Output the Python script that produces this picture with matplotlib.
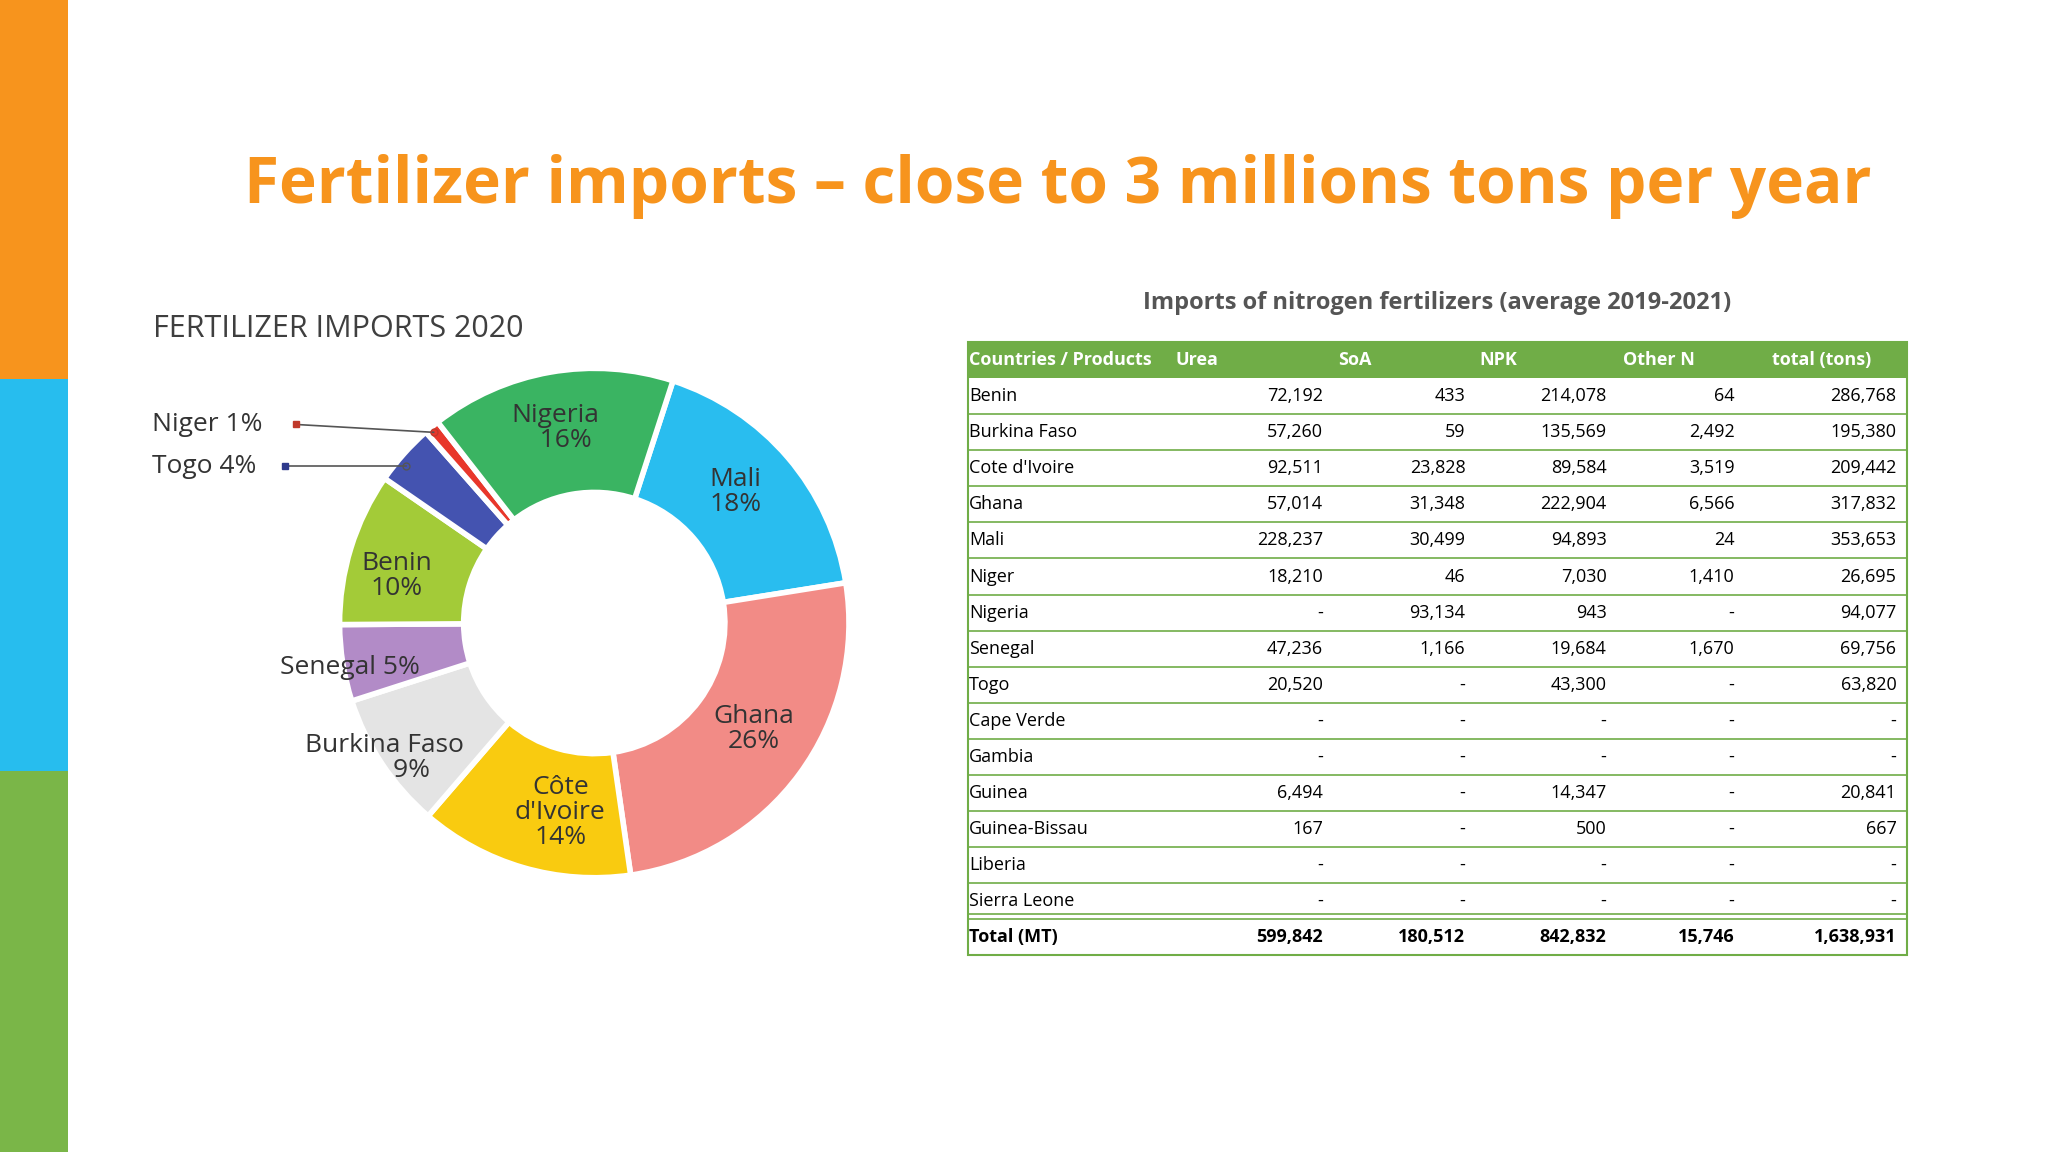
import matplotlib.pyplot as plt
from matplotlib.patches import Rectangle

plt.rcParams['font.family'] = ['Open Sans', 'DejaVu Sans']

# donut data (clockwise from the top)
pie_names = ['Mali', 'Ghana', "Côte\nd'Ivoire", 'Burkina Faso', 'Senegal', 'Benin', 'Togo', 'Niger', 'Nigeria']
pie_pct = [18, 26, 14, 9, 5, 10, 4, 1, 16]
pie_colors = ['#29BDEF', '#F28B86', '#F9CB10', '#E4E4E4', '#B28BC7', '#A3CB38', '#4453B0', '#E8372B', '#3AB462']

# table data
headers = ['Countries / Products', 'Urea', 'SoA', 'NPK', 'Other N', 'total (tons)']
countries = ['Benin', 'Burkina Faso', "Cote d'Ivoire", 'Ghana', 'Mali', 'Niger', 'Nigeria', 'Senegal', 'Togo',
             'Cape Verde', 'Gambia', 'Guinea', 'Guinea-Bissau', 'Liberia', 'Sierra Leone']
urea = ['72,192', '57,260', '92,511', '57,014', '228,237', '18,210', '-', '47,236', '20,520', '-', '-', '6,494', '167', '-', '-']
soa = ['433', '59', '23,828', '31,348', '30,499', '46', '93,134', '1,166', '-', '-', '-', '-', '-', '-', '-']
npk = ['214,078', '135,569', '89,584', '222,904', '94,893', '7,030', '943', '19,684', '43,300', '-', '-', '14,347', '500', '-', '-']
other_n = ['64', '2,492', '3,519', '6,566', '24', '1,410', '-', '1,670', '-', '-', '-', '-', '-', '-', '-']
total = ['286,768', '195,380', '209,442', '317,832', '353,653', '26,695', '94,077', '69,756', '63,820', '-', '-', '20,841', '667', '-', '-']
total_row = ['Total (MT)', '599,842', '180,512', '842,832', '15,746', '1,638,931']

W, H = 1568, 882
fig = plt.figure(figsize=(20.48, 11.52), dpi=100)
ax = fig.add_axes([0, 0, 1, 1])

def Y(y):
    return H - y

# donut
ax.pie(pie_pct, colors=pie_colors, startangle=72, counterclock=False, center=(455, Y(477)), radius=195,
       wedgeprops=dict(width=95, edgecolor='white', linewidth=4))
ax.set_xlim(0, W)
ax.set_ylim(0, H)
ax.set_aspect('equal')
ax.axis('off')

# side strip
ax.add_patch(Rectangle((0, Y(290)), 52, 290, color='#F7941D', lw=0))
ax.add_patch(Rectangle((0, Y(590)), 52, 300, color='#27BDEE', lw=0))
ax.add_patch(Rectangle((0, 0), 52, H - 590, color='#7AB648', lw=0))

ax.text(810, Y(143), 'Fertilizer imports – close to 3 millions tons per year', color='#F7941D',
        fontsize=46, fontweight='bold', ha='center', va='center')

ax.text(117, Y(252), 'FERTILIZER IMPORTS 2020', color='#3F3F3F', fontsize=22, ha='left', va='center')
lab_pos = {'Mali': (563, 377), 'Ghana': (577, 558), "Côte\nd'Ivoire": (429, 622), 'Nigeria': (425, 328),
           'Benin': (304, 441)}
lab_txt = {'Mali': 'Mali\n18%', 'Ghana': 'Ghana\n26%', "Côte\nd'Ivoire": "Côte\nd'Ivoire\n14%",
           'Nigeria': 'Nigeria\n   16%', 'Benin': 'Benin\n10%'}
for k, (x, y) in lab_pos.items():
    ax.text(x, Y(y), lab_txt[k], color='#333333', fontsize=19, ha='center', va='center', linespacing=1.0)
ax.text(268, Y(511), 'Senegal 5%', color='#333333', fontsize=19, ha='center', va='center')
ax.text(294, Y(580), 'Burkina Faso\n        9%', color='#333333', fontsize=19, ha='center', va='center', linespacing=1.0)
ax.text(116, Y(325), 'Niger 1%', color='#333333', fontsize=19, ha='left', va='center')
ax.text(116, Y(357), 'Togo 4%', color='#333333', fontsize=19, ha='left', va='center')
ax.plot([227, 332], [Y(325), Y(331)], color='#555555', lw=1.2)
ax.plot([227], [Y(325)], 's', color='#C0392B', ms=5)
ax.plot([332], [Y(331)], 'o', mfc='none', mec='#C0392B', ms=5)
ax.plot([218, 311], [Y(357), Y(357)], color='#555555', lw=1.2)
ax.plot([218], [Y(357)], 's', color='#2E3A8C', ms=5)
ax.plot([311], [Y(357)], 'o', mfc='none', mec='#555555', ms=5)

# table
ax.text(1100, Y(232), 'Imports of nitrogen fertilizers (average 2019-2021)', color='#555555',
        fontsize=17, fontweight='bold', ha='center', va='center')
x0, x1 = 741, 1460
top, rh = 262, 27.6
green = '#70AD47'
ax.add_patch(Rectangle((x0, Y(top + rh)), x1 - x0, rh, color=green, lw=0))
hx = [(742, 'left'), (900, 'left'), (1037, 'center'), (1147, 'center'), (1270, 'center'), (1395, 'center')]
for (x, ha), h in zip(hx, headers):
    ax.text(x, Y(top + rh / 2), h, color='white', fontsize=13, fontweight='bold', ha=ha, va='center')
right = [1013, 1122, 1230, 1328, 1452]
for i, c in enumerate(countries):
    yc = top + rh * (i + 1.5)
    ax.text(742, Y(yc), c, fontsize=13, ha='left', va='center', color='black')
    for x, v in zip(right, [urea[i], soa[i], npk[i], other_n[i], total[i]]):
        ax.text(x, Y(yc), v, fontsize=13, ha='right', va='center', color='black')
    ax.plot([x0, x1], [Y(top + rh * (i + 2))] * 2, color=green, lw=1.2)
ax.plot([x0, x1], [Y(top + rh * 16 - 4)] * 2, color=green, lw=1.2)
yc = top + rh * 16.5
ax.text(742, Y(yc), total_row[0], fontsize=13, fontweight='bold', ha='left', va='center')
for x, v in zip(right, total_row[1:]):
    ax.text(x, Y(yc), v, fontsize=13, fontweight='bold', ha='right', va='center')
ax.add_patch(Rectangle((x0, Y(top + rh * 17)), x1 - x0, rh * 17, fill=False, ec=green, lw=1.5))

fig.savefig('out.png', dpi=100, facecolor='white')
